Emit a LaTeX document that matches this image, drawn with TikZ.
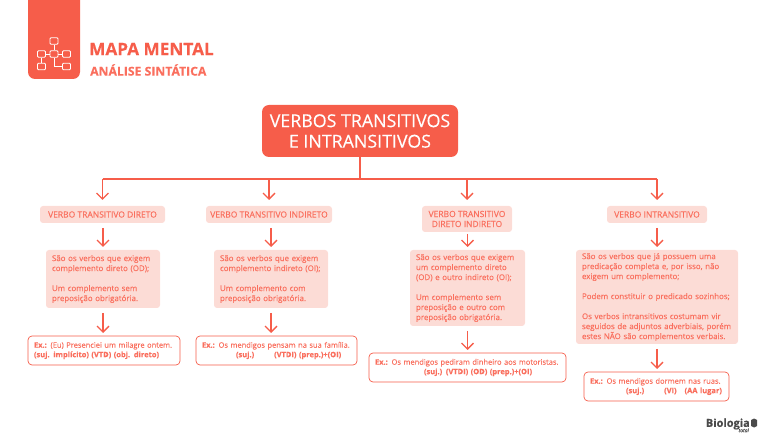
\documentclass[tikz,border=0pt]{standalone}
\usepackage{fontspec}
\setmainfont{Open Sans}[FakeBold=0.25,BoldFont={Open Sans Bold}]
\usetikzlibrary{positioning,arrows.meta}
\definecolor{mmRed}{HTML}{F65D4A}
\definecolor{mmText}{HTML}{FA6F5E}
\definecolor{mmRedL}{HTML}{FCDCD6}
\definecolor{mmGray}{HTML}{4A4A4A}
\tikzset{
  mm-main/.style={fill=mmRed, text=white, rounded corners=7pt, align=center,
    font=\fontsize{17.8}{20.5}\selectfont, minimum width=196pt, minimum height=52pt,
    inner sep=0pt, outer sep=0pt},
  mm-head/.style={fill=mmRedL, text=mmText, rounded corners=3pt, align=center,
    font=\fontsize{8.5}{10}\selectfont, minimum height=17pt,
    inner sep=0pt, outer sep=0pt},
  mm-body/.style={fill=mmRedL, text=mmText, rounded corners=3pt, align=left,
    font=\fontsize{7.9}{10}\selectfont, inner xsep=6pt, inner ysep=0pt, outer sep=0pt},
  mm-ex/.style={draw=mmRed, line width=0.7pt, fill=white, text=mmText, rounded corners=4pt,
    align=left, font=\fontsize{7.5}{9.5}\selectfont, minimum height=29pt,
    inner xsep=6pt, inner ysep=0pt, outer sep=0pt},
  mm-flow/.style={-{Straight Barb[length=6pt,width=12pt]}, line width=1.3pt, draw=mmRed,
    shorten <=5pt, shorten >=3pt},
  mm-line/.style={line width=1.3pt, draw=mmRed},
  mm-icon/.style={draw=white, line width=0.8pt, minimum width=8pt, minimum height=6.5pt,
    inner sep=0pt, rounded corners=1pt},
  mm-link/.style={draw=white, line width=0.8pt}
}
\begin{document}
\begin{tikzpicture}[x=1pt,y=-1pt]
\useasboundingbox (0,0) rectangle (768,443);
% Title
\fill[mmRed] (28,0) [rounded corners=7pt] -- (28,79) -- (80,79) [sharp corners] -- (80,0) -- cycle;
\node[mm-icon] (itop) at (54,41) {};
\node[mm-icon] (imid) at (54,54) {};
\node[mm-icon] (ileft) at (41.5,54) {};
\node[mm-icon] (iright) at (66.5,54) {};
\node[mm-icon] (ibl) at (41.5,66.5) {};
\node[mm-icon] (ibr) at (66.5,66.5) {};
\draw[mm-link] (itop) -- (imid);
\draw[mm-link] (ileft) -- (imid);
\draw[mm-link] (imid) -- (iright);
\draw[mm-link] (ileft) -- (ibl);
\draw[mm-link] (imid) |- (ibr);
\node[anchor=west, inner sep=0pt, text=mmRed, font=\fontsize{17.2}{20}\selectfont\bfseries] (title) at (89,49) {MAPA MENTAL};
\node[anchor=west, inner sep=0pt, text=mmText, font=\fontsize{12.2}{14}\selectfont\bfseries] (subtitle) at (90,70) {ANÁLISE SINTÁTICA};

% Main
\node[mm-main] (main) at (360,131) {VERBOS TRANSITIVOS\\E INTRANSITIVOS};

% Heads
\node[mm-head, anchor=north, minimum width=125pt] (h1) at (102.5,206) {VERBO TRANSITIVO DIRETO};
\node[mm-head, anchor=north, minimum width=126pt] (h2) at (269,206) {VERBO TRANSITIVO INDIRETO};
\node[mm-head, anchor=north, minimum width=90pt, minimum height=26pt] (h3) at (467,206) {VERBO TRANSITIVO\\DIRETO INDIRETO};
\node[mm-head, anchor=north, minimum width=100pt] (h4) at (657,206) {VERBO INTRANSITIVO};

% Bodies
\node[mm-body, below=27pt of h1, xshift=0.5pt, text width=102pt, minimum height=58pt] (b1)
  {São os verbos que exigem\\complemento direto (OD);\\[10pt]Um complemento sem\\preposição obrigatória.};
\node[mm-body, below=27pt of h2, xshift=2pt, text width=102pt, minimum height=58pt] (b2)
  {São os verbos que exigem\\complemento indireto (OI);\\[10pt]Um complemento com\\preposição obrigatória.};
\node[mm-body, below=18pt of h3, xshift=0.5pt, text width=103pt, minimum height=76pt] (b3)
  {São os verbos que exigem\\um complemento direto\\(OD) e outro indireto (OI);\\[10pt]Um complemento sem\\preposição e outro com\\preposição obrigatória.};
\node[mm-body, below=27pt of h4, text width=150pt, minimum height=94pt] (b4)
  {São os verbos que já possuem uma\\predicação completa e, por isso, não\\exigem um complemento;\\[10pt]Podem constituir o predicado sozinhos;\\[10pt]Os verbos intransitivos costumam vir\\seguidos de adjuntos adverbiais, porém\\estes NÃO são complementos verbais.};

% Examples
\node[mm-ex, below=28pt of b1, xshift=1pt, text width=140pt] (e1)
  {\textbf{Ex.:} (Eu) Presenciei um milagre ontem.\\\textbf{(suj. implícito) (VTD) (obj. direto)}};
\node[mm-ex, below=28pt of b2, xshift=5.5pt, text width=149pt] (e2)
  {\textbf{Ex.:} Os mendigos pensam na sua família.\\\hspace*{34pt}\textbf{(suj.)\hspace{20pt}(VTDI) (prep.)+(OI)}};
\node[mm-ex, below=27pt of b3, text width=185pt] (e3)
  {\textbf{Ex.:} Os mendigos pediram dinheiro aos motoristas.\\\hspace*{49pt}\textbf{(suj.) (VTDI) (OD) (prep.)+(OI)}};
\node[mm-ex, below=28pt of b4, xshift=-0.5pt, text width=133pt] (e4)
  {\textbf{Ex.:} Os mendigos dormem nas ruas.\\\hspace*{36pt}\textbf{(suj.)\hspace{20pt}(VI)\hspace{8pt}(AA lugar)}};

% Logo
\node[anchor=east, inner sep=0pt, text=mmGray, font=\fontsize{11}{12}\selectfont\bfseries] (logo) at (750,424) {Biologia};
\node[below left=-1.5pt and 1pt of logo.south east, inner sep=0pt, text=mmGray, font=\fontsize{5}{6}\selectfont\itshape] (logob) {total};
\fill[mmGray] (logo.east) ++(1,-4) -- ++(3,-1.5) -- ++(3,1.5) -- ++(0,6) -- ++(-3,1.5) -- ++(-3,-1.5) -- cycle;

% Connectors
\coordinate (bar1) at (h1.north |- 0,179);
\coordinate (bar2) at (h2.north |- 0,179);
\coordinate (bar3) at (h3.north |- 0,179);
\coordinate (bar4) at (h4.north |- 0,179);
\draw[mm-line] (main.south) -- (main.south |- bar1);
\draw[mm-line] (bar1) -- (bar4);
\draw[mm-flow, shorten <=0pt, shorten >=6pt] (bar1) -- (h1.north);
\draw[mm-flow, shorten <=0pt, shorten >=6pt] (bar2) -- (h2.north);
\draw[mm-flow, shorten <=0pt, shorten >=6pt] (bar3) -- (h3.north);
\draw[mm-flow, shorten <=0pt, shorten >=6pt] (bar4) -- (h4.north);
\draw[mm-flow] (b1.north |- h1.south) -- (b1.north);
\draw[mm-flow] (b2.north |- h2.south) -- (b2.north);
\draw[mm-flow, shorten <=2pt] (b3.north |- h3.south) -- (b3.north);
\draw[mm-flow] (b4.north |- h4.south) -- (b4.north);
\draw[mm-flow] (b1.south) -- (b1.south |- e1.north);
\draw[mm-flow] (b2.south) -- (b2.south |- e2.north);
\draw[mm-flow] (b3.south) -- (b3.south |- e3.north);
\draw[mm-flow] (b4.south) -- (b4.south |- e4.north);
\end{tikzpicture}
\end{document}
